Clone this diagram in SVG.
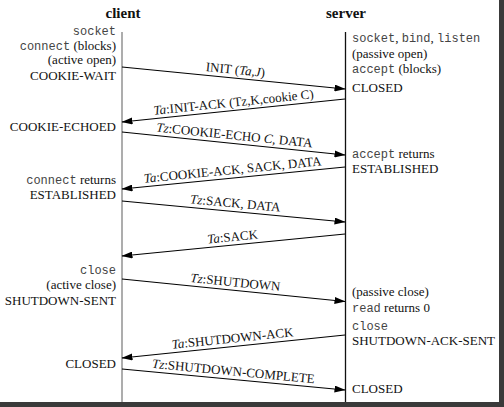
<svg xmlns="http://www.w3.org/2000/svg" width="504" height="407" viewBox="0 0 504 407">
<style>
text{font-family:"Liberation Serif","Times New Roman",serif;font-size:13px;fill:#111}
.m{font-family:"Liberation Mono","Courier New",monospace;font-size:12px;fill:#444}
.h{font-size:15px;font-weight:bold}
.i{font-style:italic}
.r{text-anchor:end}
.c{text-anchor:middle}
.msg{stroke:#000;stroke-width:1.2;fill:none;marker-end:url(#ah)}
</style>
<defs>
<marker id="ah" markerWidth="11" markerHeight="7" refX="10.5" refY="3.5" orient="auto" markerUnits="userSpaceOnUse">
<path d="M0,0 L11,3.5 L0,7 z" fill="#000"/>
</marker>
</defs>
<rect width="504" height="407" fill="#fff"/>
<rect x="499" y="0" width="5" height="407" fill="#3a3a3a"/>
<rect x="0" y="402" width="504" height="5" fill="#3a3a3a"/>

<g id="client">
<text class="h c" x="123" y="18">client</text>
<line x1="122" y1="32" x2="122" y2="402" stroke="#999" stroke-width="1.6"/>
<text class="m r" x="116" y="35">socket</text>
<text class="r" x="116" y="50"><tspan class="m">connect</tspan> (blocks)</text>
<text class="r" x="116" y="64">(active open)</text>
<text class="r" x="116" y="80">COOKIE-WAIT</text>
<text class="r" x="116" y="131">COOKIE-ECHOED</text>
<text class="r" x="116" y="184"><tspan class="m">connect</tspan> returns</text>
<text class="r" x="116" y="199">ESTABLISHED</text>
<text class="m r" x="116" y="274">close</text>
<text class="r" x="116" y="289">(active close)</text>
<text class="r" x="116" y="305">SHUTDOWN-SENT</text>
<text class="r" x="116" y="368">CLOSED</text>
</g>

<g id="server">
<text class="h c" x="346" y="18">server</text>
<line x1="345.5" y1="32" x2="345.5" y2="402" stroke="#111" stroke-width="1.3"/>
<text x="352" y="42"><tspan class="m">socket</tspan>, <tspan class="m">bind</tspan>, <tspan class="m">listen</tspan></text>
<text x="352" y="57.5">(passive open)</text>
<text x="352" y="72.5"><tspan class="m">accept</tspan> (blocks)</text>
<text x="352" y="92">CLOSED</text>
<text x="352" y="158"><tspan class="m">accept</tspan> returns</text>
<text x="352" y="173">ESTABLISHED</text>
<text x="352" y="296">(passive close)</text>
<text x="352" y="312"><tspan class="m">read</tspan> returns 0</text>
<text class="m" x="352" y="330">close</text>
<text x="352" y="345">SHUTDOWN-ACK-SENT</text>
<text x="352" y="393">CLOSED</text>
</g>

<g id="connectors">
<line class="msg" x1="122" y1="67" x2="345" y2="89"/>
<text class="c" x="235" y="74" transform="rotate(5.63 235 74)">INIT (<tspan class="i">Ta,J</tspan>)</text>

<line class="msg" x1="345" y1="99" x2="122" y2="122"/>
<text class="c" x="234" y="106.5" transform="rotate(-5.89 234 106.5)"><tspan class="i">Ta</tspan>:INIT-ACK (Tz,K,cookie C)</text>

<line class="msg" x1="122" y1="132" x2="345" y2="155"/>
<text class="c" x="234" y="139.5" transform="rotate(5.89 234 139.5)"><tspan class="i">Tz</tspan>:COOKIE-ECHO <tspan class="i">C</tspan>, DATA</text>

<line class="msg" x1="345" y1="167" x2="122" y2="189"/>
<text class="c" x="233" y="174" transform="rotate(-5.63 233 174)"><tspan class="i">Ta</tspan>:COOKIE-ACK, SACK, DATA</text>

<line class="msg" x1="122" y1="201" x2="345" y2="222"/>
<text class="c" x="235" y="207.5" transform="rotate(5.38 235 207.5)"><tspan class="i">Tz</tspan>:SACK, DATA</text>

<line class="msg" x1="345" y1="234" x2="122" y2="256"/>
<text class="c" x="233" y="241" transform="rotate(-5.63 233 241)"><tspan class="i">Ta</tspan>:SACK</text>

<line class="msg" x1="122" y1="279" x2="345" y2="301.5"/>
<text class="c" x="235" y="286.5" transform="rotate(5.76 235 286.5)"><tspan class="i">Tz</tspan>:SHUTDOWN</text>

<line class="msg" x1="345" y1="335" x2="122" y2="358"/>
<text class="c" x="233" y="342.5" transform="rotate(-5.89 233 342.5)"><tspan class="i">Ta</tspan>:SHUTDOWN-ACK</text>

<line class="msg" x1="122" y1="369" x2="345" y2="390"/>
<text class="c" x="233" y="375.5" transform="rotate(5.38 233 375.5)"><tspan class="i">Tz</tspan>:SHUTDOWN-COMPLETE</text>
</g>
</svg>
